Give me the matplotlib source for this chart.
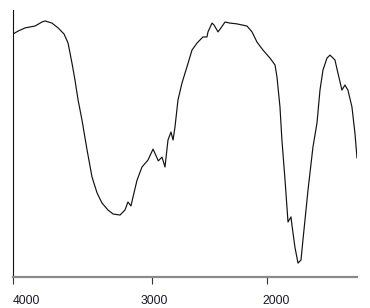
import matplotlib
matplotlib.use("Agg")
import matplotlib.pyplot as plt
import matplotlib.transforms as mtransforms

# Wavenumber (cm-1) and transmittance (%)
wavenumber = [4209, 4165, 4104, 4017, 3957, 3930, 3870, 3817, 3765, 3730,
              3696, 3670, 3643, 3609, 3565, 3522, 3478, 3435, 3383, 3339,
              3278, 3235, 3209, 3183, 3165, 3130, 3087, 3035, 2991, 2945,
              2913, 2887, 2861, 2835, 2817, 2800, 2774, 2739, 2696, 2652,
              2609, 2557, 2522, 2513, 2478, 2461, 2426, 2400, 2365, 2322,
              2261, 2174, 2130, 2087, 2035, 1974, 1930, 1913, 1887, 1870,
              1843, 1817, 1791, 1783, 1757, 1730, 1704, 1687, 1643, 1600,
              1565, 1539, 1513, 1478, 1452, 1409, 1383, 1348, 1322, 1296,
              1261, 1235, 1217]
transmittance = [91.0, 92.1, 93.3, 94.0, 95.5, 95.9, 95.1, 93.3, 91.0, 87.6,
                 80.1, 73.8, 66.3, 58.8, 47.6, 37.5, 31.5, 27.7, 25.1, 23.6,
                 23.2, 25.1, 28.1, 26.6, 30.0, 36.3, 41.2, 43.8, 47.9, 43.5,
                 44.9, 41.2, 51.3, 54.3, 51.3, 56.2, 66.3, 72.7, 78.7, 85.0,
                 87.6, 89.9, 89.9, 91.8, 95.1, 94.4, 91.8, 93.3, 95.5, 95.1,
                 94.8, 94.0, 91.8, 88.0, 85.0, 82.0, 79.4, 74.9, 63.7, 51.3,
                 36.3, 20.6, 22.5, 19.5, 11.2, 5.2, 6.4, 13.9, 32.6, 48.7,
                 57.7, 70.0, 77.5, 82.0, 83.1, 81.3, 76.4, 70.0, 71.9, 70.0,
                 63.7, 53.9, 44.6]

tick_positions = [4209, 3000, 2000]
tick_labels = ["4000", "3000", "2000"]

fig = plt.figure(figsize=(3.70, 3.08), dpi=100)
ax = fig.add_axes([13/370, 1 - 277/308, (357 - 13)/370, (277 - 10)/308])

ax.plot(wavenumber, transmittance, color="#111111", linewidth=0.85)

ax.set_xlim(4209, 1217)
ax.set_ylim(0, 100)

ax.spines["top"].set_visible(False)
ax.spines["right"].set_visible(False)
ax.spines["left"].set_color("#111111")
ax.spines["left"].set_linewidth(0.8)
ax.spines["bottom"].set_color("#8a8a8a")
ax.spines["bottom"].set_linewidth(1.6)

ax.set_yticks([])
ax.set_xticks(tick_positions)
ax.set_xticklabels(tick_labels, fontfamily="Liberation Sans", fontsize=8.7,
                   color="#1a1a2a")
ax.tick_params(axis="x", direction="out", length=5, width=0.8,
               color="#333333", pad=8)

offsets_px = [0, 2.5, 9]
for lbl, dx, ha in zip(ax.get_xticklabels(), offsets_px, ["left", "center", "center"]):
    lbl.set_ha(ha)
    lbl.set_transform(lbl.get_transform() +
                      mtransforms.ScaledTranslation(dx / 100, 0, fig.dpi_scale_trans))

fig.savefig("out.png", dpi=100)
